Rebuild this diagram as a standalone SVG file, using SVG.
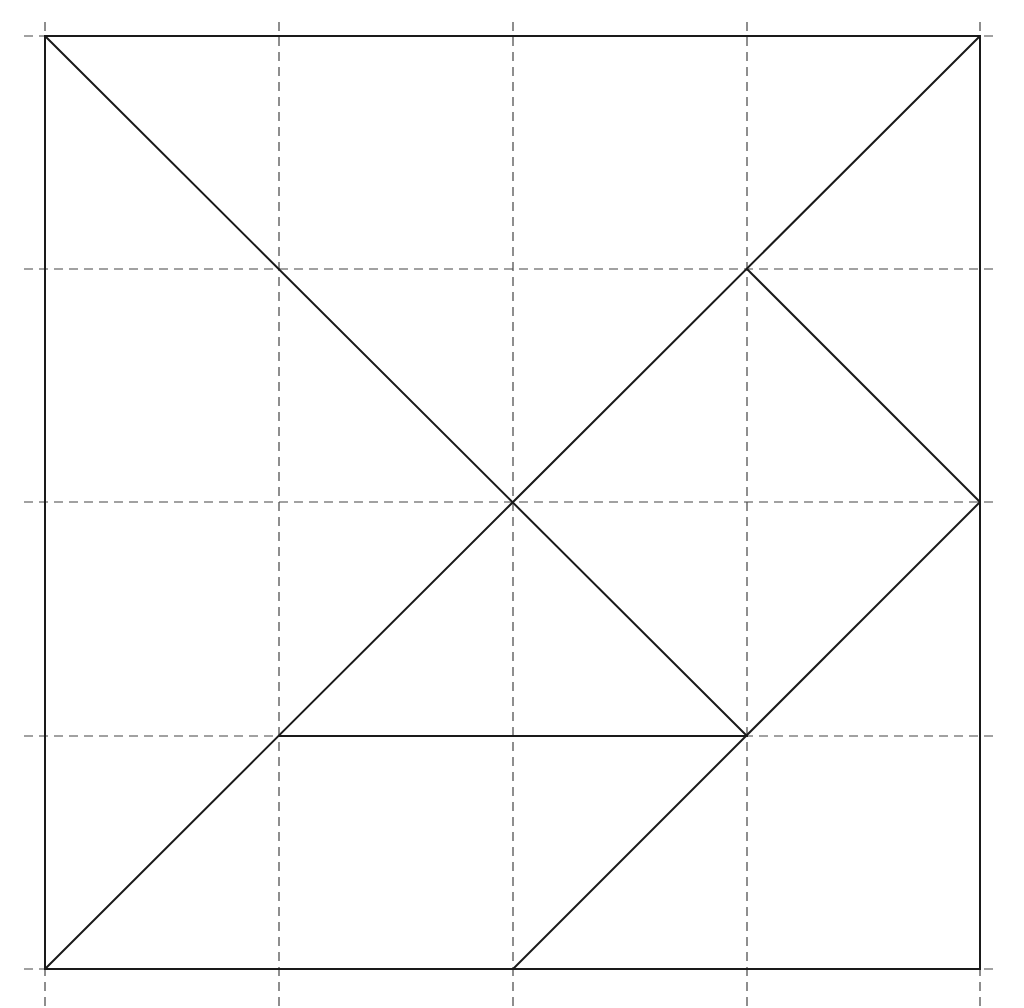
<svg xmlns="http://www.w3.org/2000/svg" width="1024" height="1008" viewBox="0 0 1024 1008">
<style>
.grid{stroke:#444;stroke-width:1.2;stroke-dasharray:9 6;fill:none}
.edge{stroke:#1a1a1a;stroke-width:2;fill:none;stroke-linecap:round}
</style>
<rect width="1024" height="1008" fill="#fff"/>
<g id="grid">
<line class="grid" x1="24" y1="36" x2="996" y2="36"/>
<line class="grid" x1="24" y1="269" x2="996" y2="269"/>
<line class="grid" x1="24" y1="502" x2="996" y2="502"/>
<line class="grid" x1="24" y1="736" x2="996" y2="736"/>
<line class="grid" x1="24" y1="969" x2="996" y2="969"/>
<line class="grid" x1="45" y1="22" x2="45" y2="1008"/>
<line class="grid" x1="279" y1="22" x2="279" y2="1008"/>
<line class="grid" x1="513" y1="22" x2="513" y2="1008"/>
<line class="grid" x1="747" y1="22" x2="747" y2="1008"/>
<line class="grid" x1="980" y1="22" x2="980" y2="1008"/>
</g>
<g id="connectors">
<rect class="edge" x="45" y="36" width="935" height="933"/>
<line class="edge" x1="45" y1="36" x2="747" y2="736"/>
<line class="edge" x1="45" y1="969" x2="980" y2="36"/>
<line class="edge" x1="747" y1="269" x2="980" y2="502"/>
<line class="edge" x1="980" y1="502" x2="513" y2="969"/>
<line class="edge" x1="279" y1="736" x2="747" y2="736"/>
</g>
</svg>
